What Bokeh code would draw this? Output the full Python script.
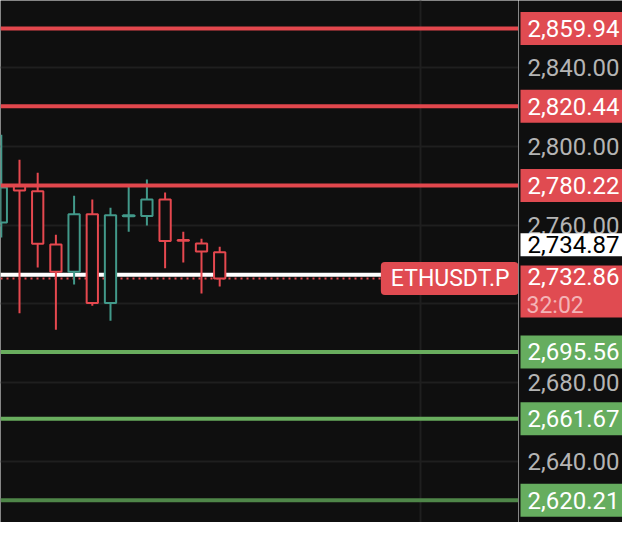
from bokeh.plotting import figure
from bokeh.layouts import row
from bokeh.models import FixedTicker, Span, Label, Grid, ColumnDataSource, Range1d
from bokeh.embed import file_html
from bokeh.resources import INLINE
from bokeh.core.properties import value

# ---- data ----
candle_idx = list(range(13))
opens  = [2761.4, 2780.1, 2777.2, 2750.2, 2736.4, 2765.5, 2720.4, 2764.5, 2764.7, 2773.1, 2752.5, 2750.7, 2746.2]
highs  = [2806.0, 2793.3, 2786.7, 2755.2, 2775.0, 2773.0, 2768.9, 2779.7, 2783.2, 2776.6, 2756.7, 2753.1, 2749.1]
lows   = [2753.8, 2715.2, 2738.5, 2706.9, 2729.9, 2719.1, 2711.4, 2756.7, 2759.8, 2738.1, 2741.1, 2725.3, 2728.9]
closes = [2779.2, 2777.6, 2750.6, 2736.4, 2765.5, 2720.4, 2765.0, 2765.1, 2773.1, 2752.0, 2752.1, 2746.6, 2732.86]

resistance_levels = [2859.94, 2820.44, 2780.22]
support_levels = [2695.56, 2661.67, 2620.21]
mark_price = 2734.87
last_price = 2732.86
countdown = "32:02"
symbol = "ETHUSDT.P"
price_ticks = [2640, 2680, 2720, 2760, 2800, 2840]
time_grid = [23.03]

# ---- style ----
BG = "#0f0f0f"
GRID = "#1f1f1f"
UP = "#42998a"
DOWN = "#e5484f"
RED_LINE = "#e2474d"
RED_BOX = "#e04b51"
GREEN_LINES = ["#69ad5e", "#69ad5e", "#4f8649"]
GREEN_BOX = "#66ad5f"
TICK_COLOR = "#b4b4b4"
FONT = "Roboto"

H = 522
FW = 518          # chart pane width
AW = 104          # price-scale pane width
PX_PER_BAR = 18.2
x0 = -0.044
x1 = x0 + FW / PX_PER_BAR
y_top, y_bot = 2874.17, 2608.92
yr = Range1d(y_bot, y_top)

# ---------------- chart pane ----------------
p = figure(width=FW, height=H, output_backend="svg", toolbar_location=None,
           x_range=Range1d(x0, x1), y_range=yr,
           x_axis_location=None, y_axis_location=None, min_border=0)
p.background_fill_color = BG
p.border_fill_color = BG
p.outline_line_color = None
p.grid.visible = False

p.add_layout(Grid(dimension=1, ticker=FixedTicker(ticks=price_ticks), grid_line_color=GRID, grid_line_width=2))
p.add_layout(Grid(dimension=0, ticker=FixedTicker(ticks=time_grid), grid_line_color=GRID, grid_line_width=2))

# mark price (white) and last price (dotted) under candles
p.add_layout(Span(location=mark_price, dimension="width", line_color="white", line_width=4, level="underlay"))
p.add_layout(Span(location=last_price, dimension="width", line_color=DOWN, line_width=2,
                  line_dash="2 4", level="underlay"))

colors = [UP if c >= o else DOWN for o, c in zip(opens, closes)]
src = ColumnDataSource(dict(
    x=candle_idx, o=opens, h=highs, l=lows, c=closes,
    top=[max(o, c) for o, c in zip(opens, closes)],
    bottom=[min(o, c) for o, c in zip(opens, closes)],
    color=colors))
p.segment(x0="x", y0="h", x1="x", y1="l", source=src, line_color="color", line_width=2)
p.vbar(x="x", width=0.62, top="top", bottom="bottom", source=src,
       fill_color=BG, line_color="color", line_width=2)

for lvl in resistance_levels:
    p.add_layout(Span(location=lvl, dimension="width", line_color=RED_LINE, line_width=4))
for lvl, col in zip(support_levels, GREEN_LINES):
    p.add_layout(Span(location=lvl, dimension="width", line_color=col, line_width=4))

p.add_layout(Label(x=x1, y=last_price, text=symbol, text_align="right",
                   text_baseline="middle", text_color="white", text_font=FONT,
                   text_font_size="23px", background_fill_color=RED_BOX,
                   padding=dict(left=10, right=9, top=3, bottom=3), border_radius=4))

# ---------------- price-scale pane ----------------
s = figure(width=AW, height=H, output_backend="svg", toolbar_location=None,
           x_range=Range1d(0, AW), y_range=yr,
           x_axis_location=None, y_axis_location=None, min_border=0)
s.background_fill_color = BG
s.border_fill_color = BG
s.outline_line_color = None
s.grid.visible = False

TX = 101   # right edge of price text inside the scale pane
s.text(x=[TX] * len(price_ticks), y=price_ticks, text=[f"{t:,.2f}" for t in price_ticks],
       text_align="right", text_baseline="middle", text_color=TICK_COLOR,
       text_font=value(FONT), text_font_size="24px")

lvl_all = resistance_levels + support_levels
lvl_col = [RED_BOX] * len(resistance_levels) + [GREEN_BOX] * len(support_levels)
lsrc = ColumnDataSource(dict(y=lvl_all, c=lvl_col, t=[f"{v:,.2f}" for v in lvl_all],
                             x=[(2 + AW + 14) / 2] * len(lvl_all)))
s.rect(x="x", y="y", width=AW + 12, height=33, height_units="screen", source=lsrc,
       fill_color="c", line_color=None)
s.text(x=TX, y="y", text="t", source=lsrc, text_align="right", text_baseline="middle",
       text_color="white", text_font=value(FONT), text_font_size="24px")

s.add_layout(Label(x=2, y=mark_price, y_offset=30, text=f"{mark_price:,.2f}", text_align="left",
                   text_baseline="middle", text_color="black", text_font=FONT, text_font_size="24px",
                   background_fill_color="white", padding=dict(left=7, right=30, top=3, bottom=3)))
s.add_layout(Label(x=2, y=last_price, y_offset=-13, text=f"{last_price:,.2f}", text_align="left",
                   text_baseline="middle", text_color="white", text_font=FONT, text_font_size="24px",
                   background_fill_color=RED_BOX, padding=dict(left=7, right=30, top=2, bottom=33)))
s.add_layout(Label(x=8, y=last_price, y_offset=-27, text=countdown, text_align="left",
                   text_baseline="middle", text_color="#f4b3b6", text_font=FONT,
                   text_font_size="23px"))

layout = row(p, s, spacing=0)
open("out.html", "w").write(file_html(layout, INLINE))
